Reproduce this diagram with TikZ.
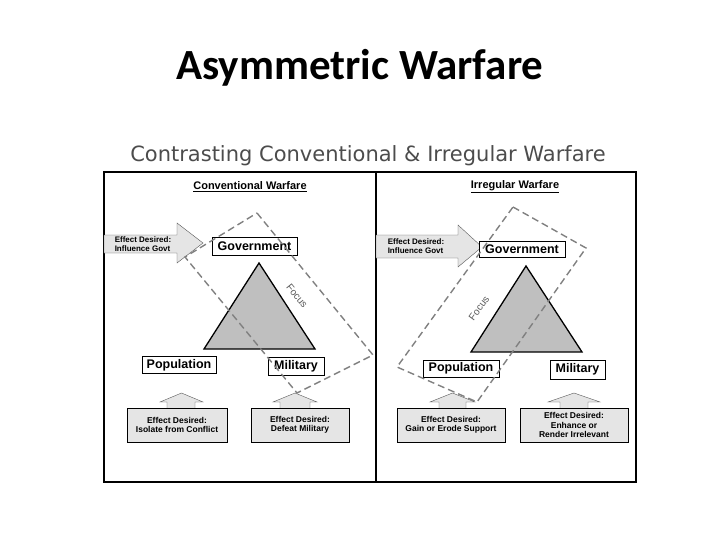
\documentclass[tikz,border=0pt]{standalone}
\usepackage{fontspec}
\setmainfont{Liberation Sans}
\newfontfamily\titlefont{Carlito}
\newfontfamily\headfont{DejaVu Sans}
\begin{document}
\begin{tikzpicture}[x=1pt,y=-1pt,
  lbl/.style={draw,thick,fill=white,inner sep=0pt,font=\bfseries\fontsize{12.5}{14}\selectfont},
  eff/.style={draw,fill=gray!20,align=center,inner sep=1pt,font=\bfseries\fontsize{8.5}{9.5}\selectfont},
  foc/.style={draw=gray,line width=1.4pt,dash pattern=on 7pt off 4pt},
  tri/.style={draw,line width=1.3pt,fill=gray!50}]
\useasboundingbox (0,0) rectangle (720,540);
\node[font=\titlefont\bfseries\fontsize{43}{46}\selectfont] (title) at (360,68) {Asymmetric Warfare};
\node[font=\headfont\fontsize{21}{23}\selectfont,text=gray!60!black] (head) at (368,156) {Contrasting Conventional \& Irregular Warfare};
\draw[line width=1.3pt] (104,172) rectangle (636,482);
\draw[line width=1.3pt] (376,172) -- (376,482);
% left panel
\node[font=\bfseries\fontsize{11}{12}\selectfont] (t1) at (250,187) {\underline{Conventional Warfare}};
\draw[fill=gray!20,draw=gray!70!black] (104,235) -- (177,235) -- (177,223) -- (203,243) -- (177,263) -- (177,253) -- (104,253) -- cycle;
\node[align=left,font=\bfseries\fontsize{8}{9}\selectfont] (e1) at (143,244) {Effect Desired:\\Influence Govt};
\draw[tri] (259,263) -- (204,349) -- (315,349) -- cycle;
\node[lbl,minimum width=85pt,minimum height=18pt] (g1) at (254.5,246) {Government};
\node[lbl,minimum width=74pt,minimum height=17pt] (p1) at (179,365) {Population};
\node[lbl,minimum width=56pt,minimum height=18pt] (m1) at (296,366.5) {Military};
\draw[fill=gray!20,draw=gray!70!black] (167,408) -- (167,402) -- (160,402) -- (181.5,393) -- (203,402) -- (195,402) -- (195,408);
\draw[fill=gray!20,draw=gray!70!black] (280,408) -- (280,402) -- (273,402) -- (295,393) -- (317,402) -- (310,402) -- (310,408);
\node[eff,minimum width=100pt,minimum height=34pt] (b1) at (177,425) {Effect Desired:\\Isolate from Conflict};
\node[eff,minimum width=98pt,minimum height=34pt] (b2) at (300,425) {Effect Desired:\\Defeat Military};
\draw[foc] (257,213) -- (373,355) -- (297,393) -- (185,257) -- cycle;
\node[text=gray!70!black,rotate=-51,font=\fontsize{10}{11}\selectfont] (f1) at (297,296) {Focus};
% right panel
\node[font=\bfseries\fontsize{11}{12}\selectfont] (t2) at (515,187) {\underline{Irregular Warfare}};
\draw[fill=gray!20,draw=gray!70!black] (376,235) -- (458,235) -- (458,225) -- (482,247) -- (458,267) -- (458,258) -- (376,258) -- cycle;
\node[align=left,font=\bfseries\fontsize{8}{9}\selectfont] (e2) at (416,246) {Effect Desired:\\Influence Govt};
\draw[tri] (526,266) -- (471,352) -- (582,352) -- cycle;
\node[lbl,minimum width=86pt,minimum height=16pt] (g2) at (522,249) {Government};
\node[lbl,minimum width=76pt,minimum height=17pt] (p2) at (461,368.5) {Population};
\node[lbl,minimum width=55pt,minimum height=19pt] (m2) at (577.5,369.5) {Military};
\draw[fill=gray!20,draw=gray!70!black] (439,408) -- (439,402) -- (430,402) -- (452.5,393) -- (475,402) -- (466,402) -- (466,408);
\draw[fill=gray!20,draw=gray!70!black] (560,408) -- (560,402) -- (548,402) -- (574,393) -- (600,402) -- (588,402) -- (588,408);
\node[eff,minimum width=108pt,minimum height=34pt] (b3) at (451,425) {Effect Desired:\\Gain or Erode Support};
\node[eff,minimum width=108pt,minimum height=34pt] (b4) at (574,425) {Effect Desired:\\Enhance or\\Render Irrelevant};
\draw[foc] (513,207) -- (586,248) -- (477,402) -- (397,367) -- cycle;
\node[text=gray!70!black,rotate=54,font=\fontsize{10}{11}\selectfont] (f2) at (479,308) {Focus};
\end{tikzpicture}
\end{document}
